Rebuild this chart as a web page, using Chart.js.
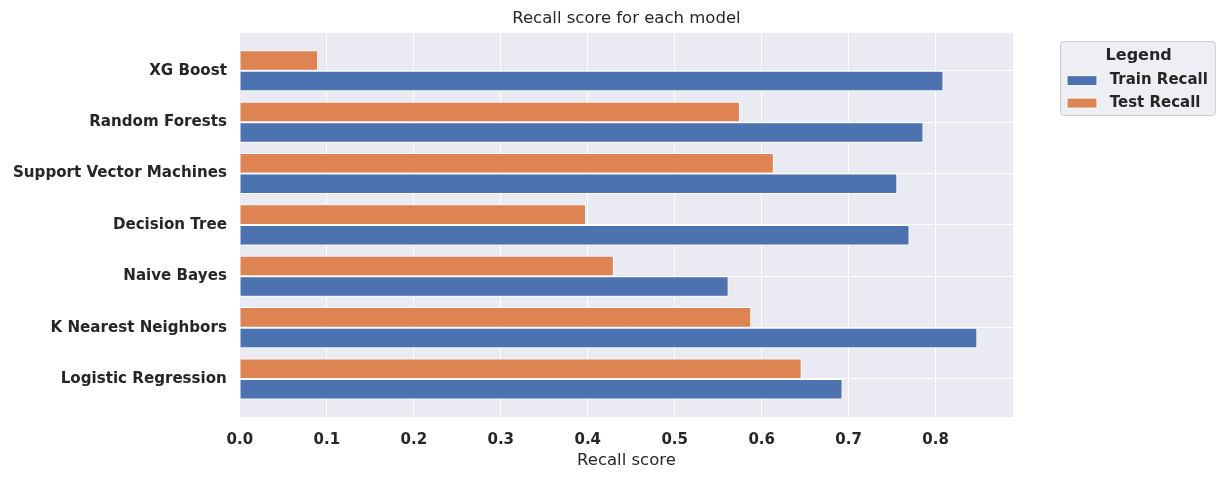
<!DOCTYPE html>
<html>
<head>
<meta charset="utf-8">
<script src="https://cdn.jsdelivr.net/npm/chart.js@4/dist/chart.umd.min.js"></script>
<style>
  html, body { margin: 0; padding: 0; background: #fff; }
  #wrap { width: 1224px; height: 479px; position: relative; }
</style>
</head>
<body>
<div id="wrap"><canvas id="myCanvas"></canvas></div>
<script>
// models listed from bottom (y = 0) to top, as matplotlib barh does
var models = ['Logistic Regression', 'K Nearest Neighbors', 'Naive Bayes', 'Decision Tree',
              'Support Vector Machines', 'Random Forests', 'XG Boost'];
var trainRecall = [0.693, 0.848, 0.562, 0.770, 0.756, 0.786, 0.809];
var testRecall  = [0.646, 0.588, 0.430, 0.398, 0.614, 0.575, 0.090];
var xTicks = [0.0, 0.1, 0.2, 0.3, 0.4, 0.5, 0.6, 0.7, 0.8];

var textColor = '#262626';
Chart.defaults.font.family = 'DejaVu Sans';
Chart.defaults.color = textColor;

function points(values) {
    var out = [];
    for (var i = 0; i < values.length; i++) {
        out.push({ x: values[i], y: i });
    }
    return out;
}

// grey plot background + the legend frame
var backdrop = {
    id: 'backdrop',
    afterLayout: function(chart) {
        var lg = chart.legend;
        var pad = lg.options.labels.padding;
        lg.left = chart.chartArea.right + 54 - pad;
        lg.right = lg.left + lg.width;
        lg.top = 38;
        lg.bottom = lg.top + lg.height;
    },
    beforeDraw: function(chart) {
        var ctx = chart.ctx;
        var a = chart.chartArea;
        ctx.save();
        ctx.fillStyle = '#EAEAF2';
        ctx.fillRect(a.left, a.top, a.right - a.left, a.bottom - a.top);

        var lg = chart.legend;
        var pad = lg.options.labels.padding;
        var colW = lg.columnSizes && lg.columnSizes.length ? lg.columnSizes[0].width : 140;
        var x0 = lg.left + pad - 7, x1 = lg.left + pad + colW + 7;
        var y0 = 41, y1 = 115;
        ctx.beginPath();
        ctx.roundRect(x0 + 0.5, y0 + 0.5, x1 - x0, y1 - y0, 3);
        ctx.fillStyle = 'rgba(234,234,242,0.8)';
        ctx.fill();
        ctx.strokeStyle = '#cccccc';
        ctx.lineWidth = 1;
        ctx.stroke();
        ctx.restore();
    }
};

var ctx = document.getElementById('myCanvas').getContext('2d');
var chart = new Chart(ctx, {
    type: 'bar',
    data: {
        datasets: [{
            label: 'Test Recall',
            data: points(testRecall),
            backgroundColor: '#DD8452',
            borderColor: '#ffffff',
            borderWidth: 1
        }, {
            label: 'Train Recall',
            data: points(trainRecall),
            backgroundColor: '#4C72B0',
            borderColor: '#ffffff',
            borderWidth: 1
        }]
    },
    options: {
        indexAxis: 'y',
        responsive: true,
        maintainAspectRatio: false,
        animation: false,
        categoryPercentage: 0.8,
        barPercentage: 1.0,
        layout: { padding: { left: 0, right: 211, top: 0, bottom: 0 } },
        scales: {
            x: {
                type: 'linear',
                position: 'bottom',
                min: 0,
                max: 0.889,
                afterBuildTicks: function(scale) {
                    scale.ticks = xTicks.map(function(v) { return { value: v }; });
                },
                ticks: {
                    padding: 14,
                    color: textColor,
                    font: { size: 15, weight: 'bold' },
                    callback: function(v) { return Number(v).toFixed(1); }
                },
                grid: { color: '#ffffff', lineWidth: 1, drawTicks: false },
                border: { display: false },
                title: {
                    display: true,
                    text: 'Recall score',
                    color: textColor,
                    font: { size: 16.5 },
                    padding: { top: -11.8, bottom: 8 }
                }
            },
            x2: {
                type: 'linear',
                position: 'top',
                axis: 'x',
                display: true,
                ticks: { display: false },
                grid: { display: false, drawTicks: false },
                border: { display: false },
                title: {
                    display: true,
                    text: 'Recall score for each model',
                    color: textColor,
                    font: { size: 16.5 },
                    padding: { top: 9, bottom: 4 }
                }
            },
            y: {
                type: 'linear',
                min: -0.74,
                max: 6.74,
                offset: false,
                afterBuildTicks: function(scale) {
                    scale.ticks = models.map(function(m, i) { return { value: i }; });
                },
                ticks: {
                    padding: 13,
                    color: textColor,
                    font: { size: 15.1, weight: 'bold' },
                    autoSkip: false,
                    callback: function(v) { return models[v]; }
                },
                grid: { color: '#ffffff', lineWidth: 1, drawTicks: false, offset: false },
                border: { display: false }
            }
        },
        plugins: {
            legend: {
                position: 'chartArea',
                align: 'start',
                reverse: true,
                labels: {
                    boxWidth: 30,
                    boxHeight: 10,
                    padding: 7.5,
                    color: textColor,
                    font: { size: 15, weight: 'bold' },
                    generateLabels: function(chart) {
                        var items = Chart.defaults.plugins.legend.labels.generateLabels(chart);
                        items.forEach(function(it) { it.text = ' ' + it.text; });
                        return items;
                    }
                },
                title: {
                    display: true,
                    text: 'Legend',
                    color: textColor,
                    font: { size: 16, weight: 'bold', lineHeight: 1.1 },
                    padding: { top: 10, bottom: 0 }
                }
            },
            tooltip: { enabled: false }
        }
    },
    plugins: [backdrop]
});
</script>
</body>
</html>
